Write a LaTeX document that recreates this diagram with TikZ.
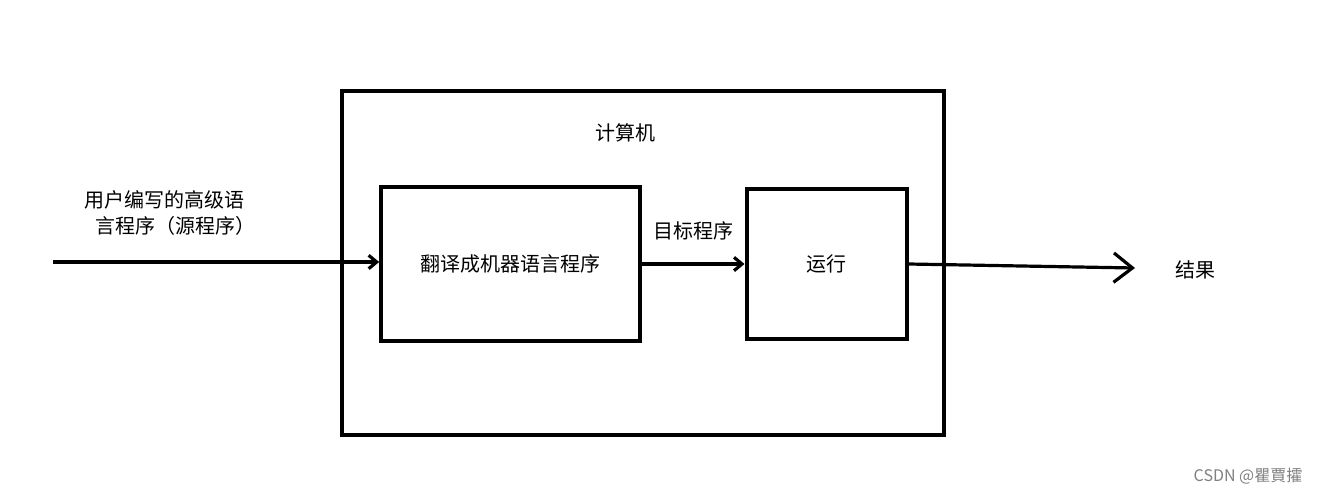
\documentclass[tikz,border=0pt]{standalone}
\usepackage{fontspec}
\newfontfamily\cjk{Noto Sans CJK SC}
\usetikzlibrary{arrows.meta}
\tikzset{box/.style={draw,line width=3pt},
 lbl/.style={font=\cjk\fontsize{15}{20}\selectfont,inner sep=0pt},
 arr/.style={line width=2.4pt,-{Straight Barb[length=6pt,width=10pt]}}}
\begin{document}
\begin{tikzpicture}[x=0.75pt,y=-0.75pt]
\useasboundingbox (0,0) rectangle (1330,496);
\draw[box] (342,91) rectangle (944,435);
\node[lbl] (title) at (625,133) {计算机};
\node[box,minimum width=194pt,minimum height=115pt,lbl] (a) at (510.5,264) {翻译成机器语言程序};
\node[box,minimum width=120pt,minimum height=112pt,lbl] (b) at (826.5,264) {运行};
\coordinate (in) at (53,262);
\draw[arr] (in) -- (a.west|-in);
\node[lbl,align=left] (src) at (170,213) {用户编写的高级语\\\hspace{8pt}言程序（源程序）};
\draw[arr] (a.east) -- (b.west);
\node[lbl] (t) at (693,231) {目标程序};
\node[lbl] (res) at (1195,270) {结果};
\coordinate (out) at (1135,268);
\draw[line width=2.4pt,-{Straight Barb[length=14pt,width=22pt]}] (b.east) -- (out);
\node[font=\cjk\fontsize{12}{14}\selectfont,text=gray] (wm) at (1248,476) {CSDN @瞿賈攉};
\end{tikzpicture}
\end{document}
